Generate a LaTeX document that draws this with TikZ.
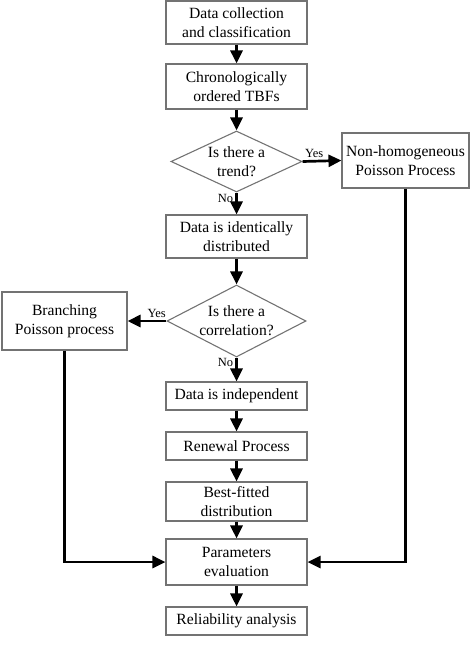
\documentclass[tikz,border=0pt]{standalone}
\usepackage{fontspec}
\setmainfont{Liberation Serif}
\usetikzlibrary{shapes.geometric,arrows.meta}
\definecolor{boxline}{gray}{0.45}
\tikzset{
  procbox/.style={draw=boxline, line width=1.1pt, align=center, inner sep=0pt,
    font=\fontsize{15.6}{19}\selectfont},
  choice/.style={diamond, draw=boxline, line width=1.1pt, align=center, inner sep=-2pt,
    aspect=2, font=\fontsize{15.6}{19}\selectfont},
  flow/.style={line width=2.7pt, -{Triangle[length=13pt,width=12pt]}},
  answer/.style={font=\fontsize{12.5}{14}\selectfont, inner sep=2pt}
}
\begin{document}
\begin{tikzpicture}[x=1pt,y=-1pt]
    \useasboundingbox (0,0) rectangle (474,647);
    % main column
    \node [procbox, minimum width=141, minimum height=43] (collect) at (236.5, 22.5) {Data collection\\and classification};
    \node [procbox, minimum width=141, minimum height=45] (chrono) at (236.5, 86.5) {Chronologically\\ordered TBFs};
    \node [choice, minimum width=131, minimum height=61] (trend) at (236.5, 161.5) {Is there a\\trend?};
    \node [procbox, minimum width=127, minimum height=55] (nhpp) at (405.5, 160.5) {Non-homogeneous\\Poisson Process};
    \node [procbox, minimum width=141, minimum height=43] (ident) at (236.5, 236.5) {Data is identically\\distributed};
    \node [choice, minimum width=139, minimum height=72] (corr) at (236.5, 321) {Is there a\\correlation?};
    \node [procbox, minimum width=125, minimum height=58] (branch) at (64.5, 321) {Branching\\Poisson process};
    \node [procbox, minimum width=141, minimum height=28] (indep) at (236.5, 396) {Data is independent};
    \node [procbox, minimum width=141, minimum height=28] (renewal) at (236.5, 446) {Renewal Process};
    \node [procbox, minimum width=141, minimum height=39] (bestfit) at (236.5, 501.5) {Best-fitted\\distribution};
    \node [procbox, minimum width=141, minimum height=46] (param) at (236.5, 562) {Parameters\\evaluation};
    \node [procbox, minimum width=141, minimum height=28] (reliab) at (236.5, 621) {Reliability analysis};
    % connectors
    \draw [flow] (collect) -- (chrono);
    \draw [flow] (chrono) -- (trend);
    \draw [flow] (trend.east) -- node[answer, above, pos=0.3] {Yes} (nhpp.west);
    \draw [flow] (trend.south) -- node[answer, left, pos=0.25] {No} (ident.north);
    \draw [flow] (ident) -- (corr);
    \draw [flow] (corr.west) -- node[answer, above, pos=0.25] {Yes} (branch.east);
    \draw [flow] (corr.south) -- node[answer, left, pos=0.2] {No} (indep.north);
    \draw [flow] (indep) -- (renewal);
    \draw [flow] (renewal) -- (bestfit);
    \draw [flow] (bestfit) -- (param);
    \draw [flow] (param) -- (reliab);
    \draw [flow] (branch) |- (param);
    \draw [flow] (nhpp) |- (param);
\end{tikzpicture}
\end{document}
